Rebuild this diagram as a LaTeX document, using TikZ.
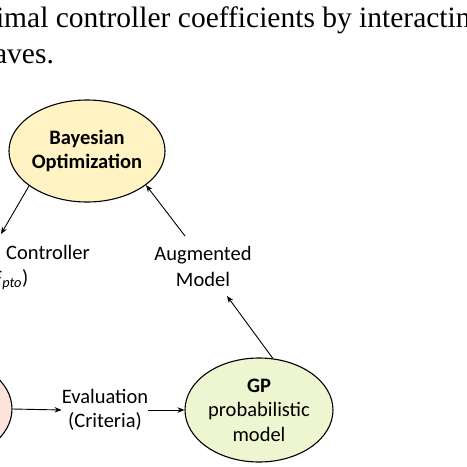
\documentclass[tikz,border=0pt]{standalone}
\usepackage{fontspec}
\setmainfont{Liberation Serif}
\newfontfamily\carl{Carlito}
\usetikzlibrary{shapes.geometric,arrows.meta,calc}
\definecolor{boyel}{HTML}{FFF3C4}
\definecolor{gpgrn}{HTML}{EDF6D0}
\definecolor{pkpink}{HTML}{FCE4DC}
\begin{document}
\begin{tikzpicture}[x=1pt,y=-1pt,
  bub/.style={ellipse,draw,line width=1.1pt,inner sep=0pt},
  lbl/.style={font=\carl\fontsize{20.5}{24.5}\selectfont,align=center,inner sep=0pt},
  serif/.style={font=\fontsize{29.5}{35}\selectfont,inner sep=0pt,anchor=base west},
  arr/.style={-{Stealth[length=7pt,width=5.5pt]},line width=0.9pt}]
\useasboundingbox (0,0) rectangle (467,467);
\clip (0,0) rectangle (467,467);
\node[serif] (t1) at (4,27) {\llap{opti}mal controller coefficients by interacting};
\node[serif] (t2) at (7,63) {\llap{wa}ves.};
\node[bub,fill=boyel,minimum width=150pt,minimum height=102pt,lbl] (bo) at (87,151) {\bfseries Bayesian\\\bfseries Optimization};
\node[bub,fill=gpgrn,minimum width=148pt,minimum height=104pt,lbl] (gp) at (259,410) {\bfseries GP\\probabilistic\\model};
\node[bub,fill=pkpink,minimum width=140pt,minimum height=102pt] (pk) at (-58,409) {};
\node[lbl,anchor=west] (ctrl) at (6,252) {Controller};
\node[lbl,anchor=east] (fpto) at (28.5,280) {(F\textsubscript{\itshape pto})};
\node[lbl,font=\carl\fontsize{20.5}{26}\selectfont] (aug) at (203,266) {Augmented\\Model};
\node[lbl] (ev) at (105,410) {Evaluation\\(Criteria)};
\coordinate (c1) at (1,234);
\draw[arr] (bo.211) -- (c1);
\draw[arr] ($(aug.center)+(-18,-30)$) -- (bo.330);
\draw[arr] (gp.75) -- ($(aug.center)+(24,30)$);
\draw[arr] (pk.east) -- (ev.west);
\draw[arr] (ev.east) -- (gp.west);
\end{tikzpicture}
\end{document}
